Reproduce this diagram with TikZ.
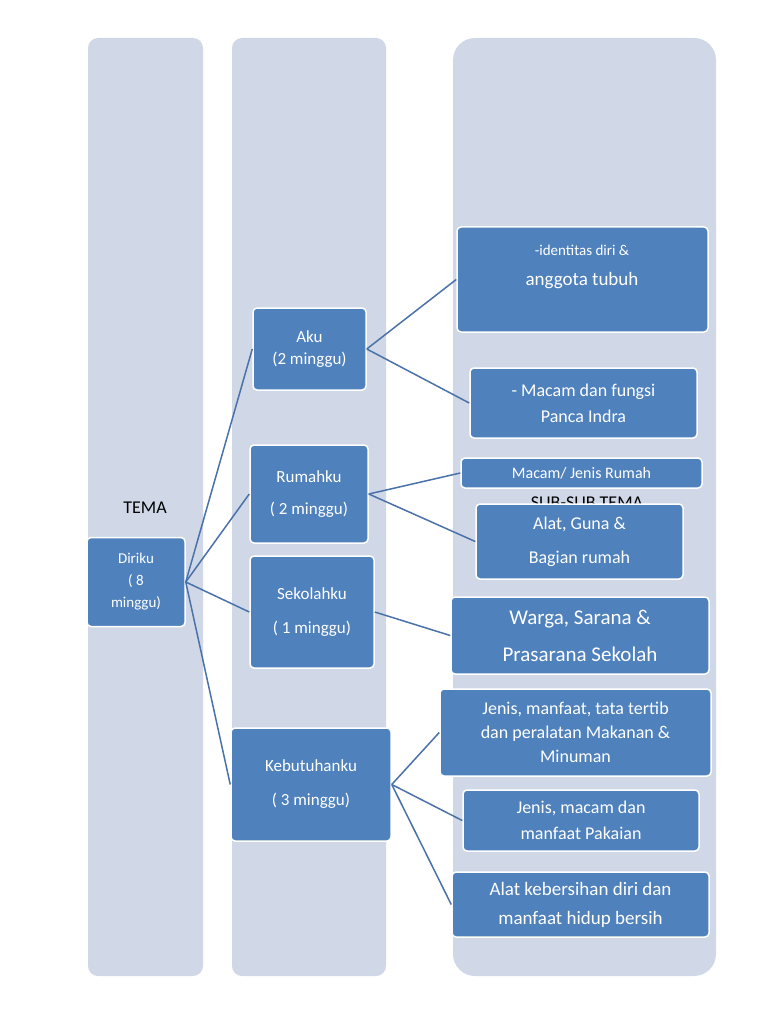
\documentclass[tikz,border=0pt]{standalone}
\usepackage{fontspec}
\setmainfont{Carlito}
\begin{document}
\begin{tikzpicture}[x=1pt,y=-1pt,
  col/.style={fill=colbg,rounded corners=10pt},
  bx/.style={fill=boxblue,draw=white,line width=1.5pt,rounded corners=4pt,text=white,align=center,font=\fontsize{17}{22}\selectfont},
  ln/.style={draw=linec,line width=1.5pt}]
\definecolor{colbg}{HTML}{D0D8E8}
\definecolor{boxblue}{HTML}{4F81BD}
\definecolor{linec}{HTML}{4A72A8}
\useasboundingbox (0,0) rectangle (768,1024);
\fill[white] (0,0) rectangle (768,1024);
\fill[col] (88,38) rectangle (203,976);
\fill[col] (232,38) rectangle (386,976);
\fill[colbg,rounded corners=22pt] (453,38) rectangle (716,976);
\node[font=\fontsize{18}{22}\selectfont] (tema) at (145,508) {TEMA};
\node[font=\fontsize{18}{22}\selectfont] (sst) at (587,503) {SUB-SUB TEMA};
% boxes
\node[bx,minimum width=98,minimum height=89,font=\fontsize{15}{22}\selectfont] (d) at (136,582) {Diriku\\( 8\\minggu)};
\node[bx,minimum width=113,minimum height=82] (a) at (309.5,349) {Aku\\(2 minggu)};
\node[bx,minimum width=118,minimum height=98,font=\fontsize{17}{32}\selectfont] (r) at (309,494) {Rumahku\\( 2 minggu)};
\node[bx,minimum width=124,minimum height=112,font=\fontsize{17}{34}\selectfont] (s) at (312,612) {Sekolahku\\( 1 minggu)};
\node[bx,minimum width=160,minimum height=113,font=\fontsize{17}{34}\selectfont] (k) at (311,784.5) {Kebutuhanku\\( 3 minggu)};
\node[bx,minimum width=251,minimum height=105,align=center] (i) at (582.5,279.5) {};
\node[text=white,font=\fontsize{15}{18}\selectfont] (it) at (582,250) {-identitas diri \&};
\node[text=white,font=\fontsize{19}{22}\selectfont] (it2) at (582,281) {anggota tubuh};
\node[bx,minimum width=227,minimum height=70,font=\fontsize{18}{26}\selectfont] (m) at (583.5,403) {- Macam dan fungsi\\Panca Indra};
\node[bx,minimum width=241,minimum height=30,font=\fontsize{16}{20}\selectfont] (mj) at (581.5,473) {Macam/ Jenis Rumah};
\node[bx,minimum width=207,minimum height=75,font=\fontsize{18}{34}\selectfont] (al) at (579.5,541.5) {Alat, Guna \&\\Bagian rumah};
\node[bx,minimum width=258,minimum height=77,font=\fontsize{21}{37}\selectfont] (w) at (580,635.5) {Warga, Sarana \&\\Prasarana Sekolah};
\node[bx,minimum width=271,minimum height=87,font=\fontsize{18}{24}\selectfont] (j) at (575.5,732.5) {Jenis, manfaat, tata tertib\\dan peralatan Makanan \&\\Minuman};
\node[bx,minimum width=236,minimum height=61,font=\fontsize{18}{26}\selectfont] (jm) at (581,820.5) {Jenis, macam dan\\manfaat Pakaian};
\node[bx,minimum width=257,minimum height=65,font=\fontsize{19}{29}\selectfont] (ak) at (580.5,904.5) {Alat kebersihan diri dan\\manfaat hidup bersih};
% connectors
\foreach \t in {a,r,s,k} \draw[ln] (d.east) -- (\t.west);
\draw[ln] (a.east) -- (i.west);
\draw[ln] (a.east) -- (m.west);
\draw[ln] (r.east) -- (mj.west);
\draw[ln] (r.east) -- (al.west);
\draw[ln] (s.east) -- (w.west);
\draw[ln] (k.east) -- (j.west);
\draw[ln] (k.east) -- (jm.west);
\draw[ln] (k.east) -- (ak.west);
\end{tikzpicture}
\end{document}
